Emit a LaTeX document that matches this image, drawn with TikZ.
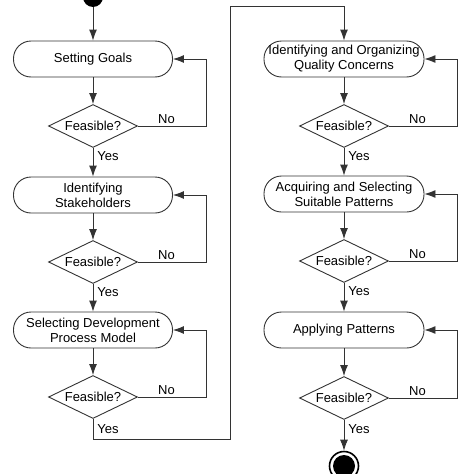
\documentclass[tikz,border=0pt]{standalone}
\usepackage{fontspec}
\setmainfont{Liberation Sans}
\usepackage{tikz}
\usetikzlibrary{calc}
\usetikzlibrary{shapes}
\usetikzlibrary{arrows.meta}
\tikzset{
  activity/.style={draw=black!80, line width=0.9pt, rounded corners=17.5pt, minimum width=159pt, minimum height=36pt, inner sep=1pt, align=center, font=\fontsize{13}{15}\selectfont},
  decision/.style={draw=black!80, line width=0.9pt, shape=diamond, aspect=2.07, minimum width=89pt, minimum height=43pt, inner sep=0pt, font=\fontsize{13}{15}\selectfont},
  flow/.style={draw=black!80, line width=0.9pt, -{Latex[length=11pt,width=8pt]}},
  lbl/.style={font=\fontsize{13}{15}\selectfont, inner sep=2pt}
}
\newcommand{\loopback}[3]{\draw[flow] (#1.east) -- node[lbl,above,pos=0.42] {No} ++(#3,0) |- (#2.east);}
\newcommand{\yesstep}[2]{\draw[flow] (#1.south) -- node[lbl,right,pos=0.3,xshift=2pt] {Yes} (#2.north);}
\begin{document}
\begin{tikzpicture}[x=1pt,y=-1pt]
\useasboundingbox (0,0) rectangle (474,474);
% start and end
\node[circle, fill=black, minimum size=20pt, inner sep=0pt] (start) at (93,-3) {};
\node[circle, draw=black, line width=1.6pt, minimum size=29pt, inner sep=0pt] (stop) at (344,466) {};
\fill (stop.center) circle (11pt);
% left column
\node[activity] (goals) at (93,59) {Setting Goals};
\node[decision] (feas1) at (93,126) {Feasible?};
\node[activity] (stake) at (93,195) {Identifying\\Stakeholders};
\node[decision] (feas2) at (93,262) {Feasible?};
\node[activity] (model) at (93,330) {Selecting Development\\Process Model};
\node[decision] (feas3) at (93,397) {Feasible?};
% right column
\node[activity, minimum width=160pt] (qual) at (344,59) {Identifying and Organizing\\Quality Concerns};
\node[decision] (feas4) at (344,126) {Feasible?};
\node[activity, minimum width=160pt] (acq) at (344,194) {Acquiring and Selecting\\Suitable Patterns};
\node[decision] (feas5) at (344,261) {Feasible?};
\node[activity, minimum width=160pt] (apply) at (344,330) {Applying Patterns};
\node[decision] (feas6) at (344,398) {Feasible?};
% jump between columns
\coordinate (jumpdown) at (93,439);
\coordinate (jumpup) at (230,6);
% left column flow
\draw[flow] (start) -- (goals.north);
\draw[flow] (goals) -- (feas1.north);
\yesstep{feas1}{stake}
\draw[flow] (stake) -- (feas2.north);
\yesstep{feas2}{model}
\draw[flow] (model) -- (feas3.north);
\loopback{feas1}{goals}{68}
\loopback{feas2}{stake}{68}
\loopback{feas3}{model}{68}
\draw[flow] (feas3.south) -- node[lbl,right,xshift=2pt] {Yes} (jumpdown) -| (jumpup) -| (qual.north);
% right column flow
\draw[flow] (qual) -- (feas4.north);
\yesstep{feas4}{acq}
\draw[flow] (acq) -- (feas5.north);
\yesstep{feas5}{apply}
\draw[flow] (apply) -- (feas6.north);
\yesstep{feas6}{stop}
\loopback{feas4}{qual}{68}
\loopback{feas5}{acq}{68}
\loopback{feas6}{apply}{68}
\end{tikzpicture}
\end{document}
